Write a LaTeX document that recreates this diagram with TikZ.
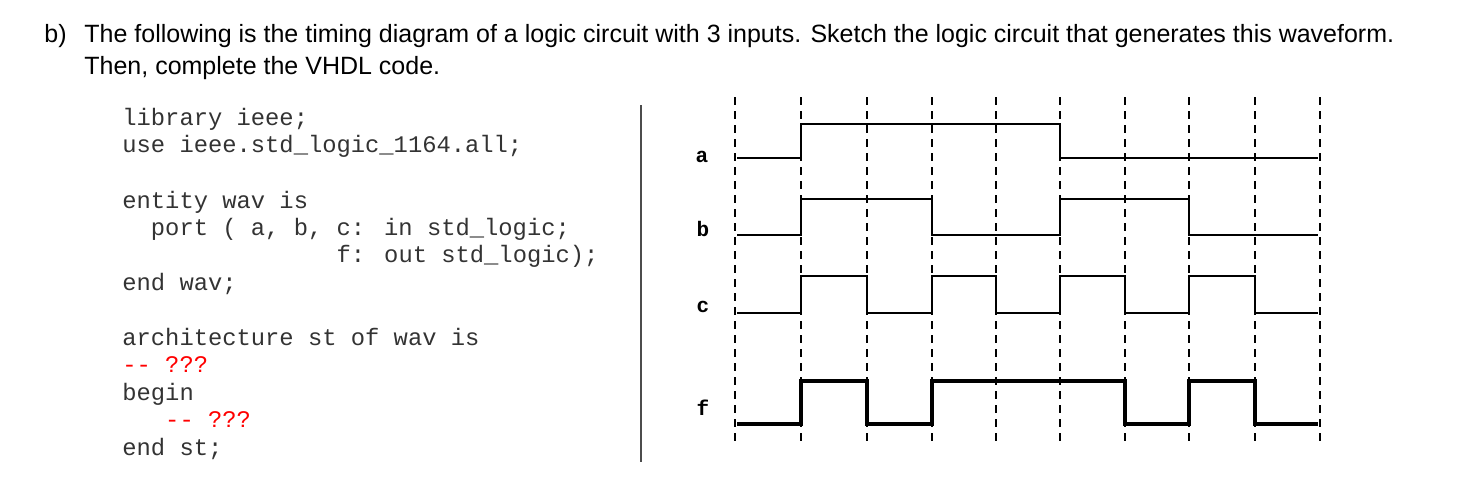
\documentclass[tikz,border=0pt]{standalone}
\usepackage{fontspec}
\setmainfont{Liberation Sans}
\newfontfamily\codefont{Liberation Mono}
\begin{document}
\begin{tikzpicture}[x=0.5pt,y=-0.5pt,
  hdr/.style={anchor=base west,inner sep=0,font=\fontsize{12.5}{14}\selectfont},
  code/.style={anchor=base west,inner sep=0,font=\codefont\fontsize{11.9}{13}\selectfont,text=black!80},
  red code/.style={code,text=red},
  grid/.style={dashed,dash pattern=on 4pt off 3pt,line width=0.6pt},
  wave/.style={line width=0.8pt},
  fwave/.style={line width=2pt},
  sig/.style={font=\codefont\bfseries\fontsize{10.5}{12}\selectfont,inner sep=0}]
\useasboundingbox (0,0) rectangle (1472,484);
\node[hdr] (h0) at (44,42) {b)};
\node[hdr] (h1) at (84,42) {The following is the timing diagram of a logic circuit with 3 inputs. Sketch the logic circuit that generates this waveform.};
\node[hdr] (h2) at (84,74) {Then, complete the VHDL code.};
\node[code] (c1) at (122,125) {library ieee;};
\node[code] (c2) at (122,152) {use ieee.std\_logic\_1164.all;};
\node[code] (c3) at (122,208) {entity wav is};
\node[code] (c4) at (122,235) {\ \ port ( a, b, c: in std\_logic;};
\node[code] (c5) at (122,262) {\ \ \ \ \ \ \ \ \ \ \ \ \ \ \ f: out std\_logic);};
\node[code] (c6) at (122,290) {end wav;};
\node[code] (c7) at (122,345) {architecture st of wav is};
\node[red code] (c8) at (122,372) {-- ???};
\node[code] (c9) at (122,400) {begin};
\node[red code] (c10) at (122,427) {\ \ \ -- ???};
\node[code] (c11) at (122,455) {end st;};
\draw[line width=0.6pt,black!70] (641,105) -- (641,462);
\foreach \x in {735,801,867,932,996,1060,1125,1189,1255,1320}
  \draw[grid] (\x,97) -- (\x,445);
\node[sig] (la) at (702,157) {a};
\node[sig] (lb) at (703,229) {b};
\node[sig] (lc) at (703,307) {c};
\node[sig] (lf) at (703,408) {f};
\draw[wave] (737,158) -- (801,158) -- (801,124) -- (1060,124) -- (1060,158) -- (1318,158);
\draw[wave] (737,235) -- (801,235) -- (801,199) -- (932,199) -- (932,235) -- (1060,235) -- (1060,199) -- (1189,199) -- (1189,235) -- (1318,235);
\draw[wave] (737,313) -- (801,313) -- (801,276) -- (867,276) -- (867,313) -- (932,313) -- (932,276) -- (996,276) -- (996,313) -- (1060,313) -- (1060,276) -- (1125,276) -- (1125,313) -- (1189,313) -- (1189,276) -- (1255,276) -- (1255,313) -- (1318,313);
\draw[fwave] (737,424) -- (801,424) -- (801,381) -- (867,381) -- (867,424) -- (932,424) -- (932,381) -- (1125,381) -- (1125,424) -- (1189,424) -- (1189,381) -- (1255,381) -- (1255,424) -- (1318,424);
\end{tikzpicture}
\end{document}
